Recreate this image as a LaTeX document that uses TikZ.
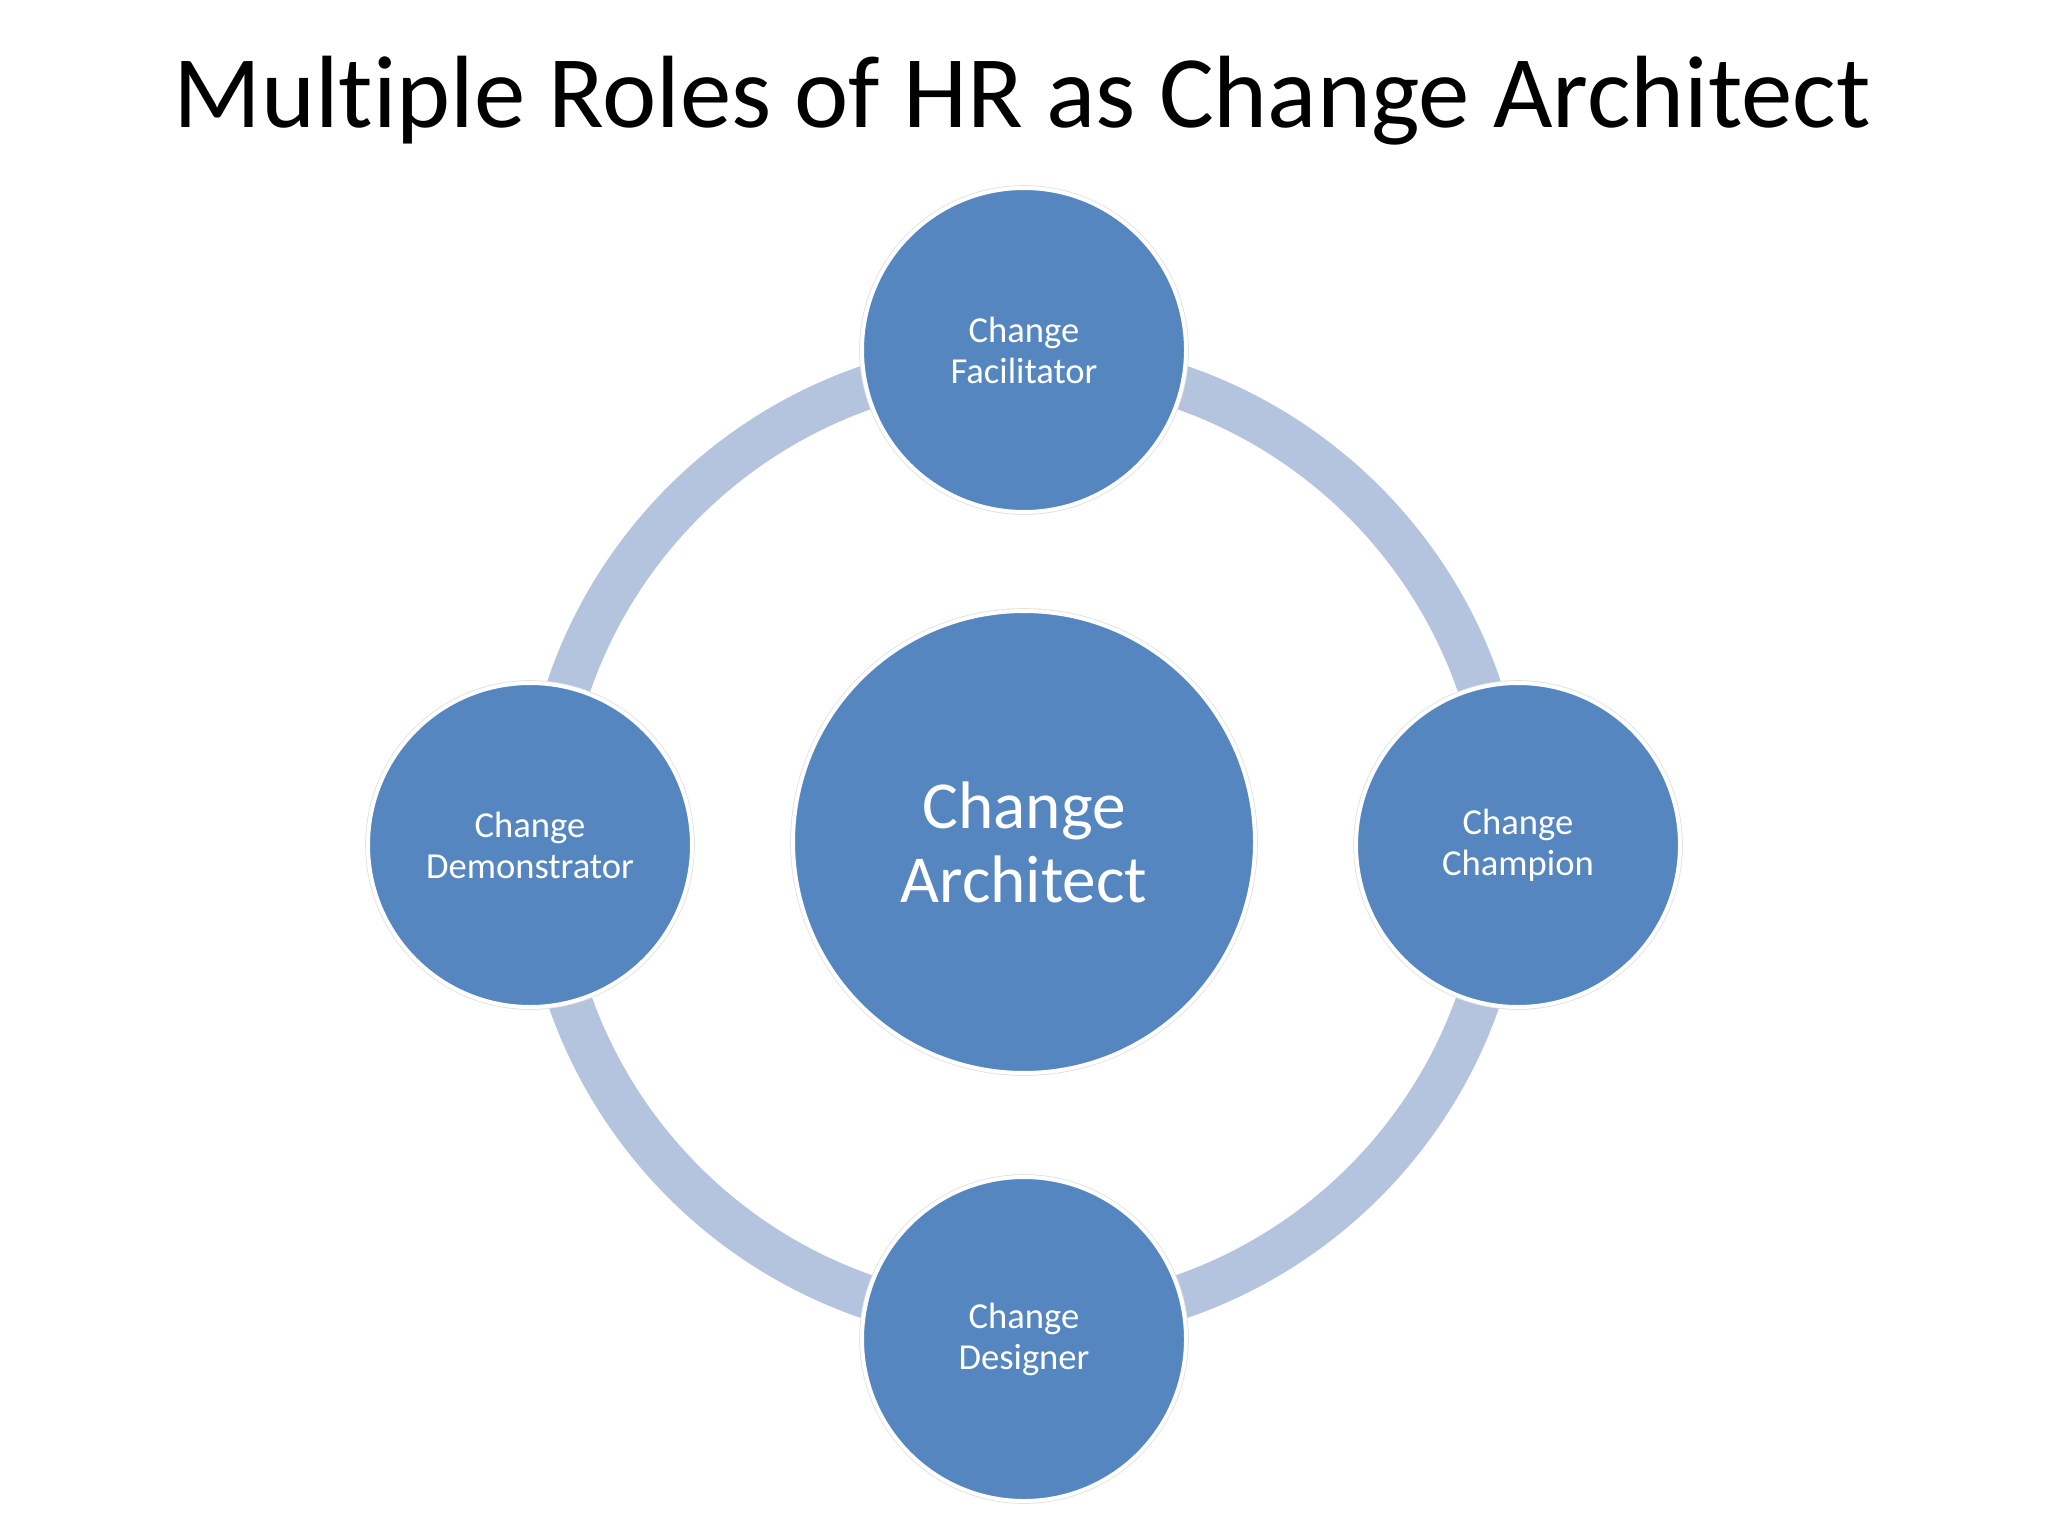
\documentclass[tikz,border=0pt]{standalone}
\usepackage{fontspec}
\setmainfont{Carlito}[Ligatures=NoCommon]
\usetikzlibrary{backgrounds}
\definecolor{circblue}{HTML}{5586C0}
\definecolor{ringblue}{HTML}{B4C4DF}
\begin{document}
\begin{tikzpicture}[x=0.5pt,y=-0.5pt,
  bubble/.style={circle, fill=circblue, draw=white, line width=2pt, inner sep=0pt,
    preaction={draw=black!12, line width=2.8pt},
    text=white, align=center},
  sat/.style={bubble, minimum size=162pt, font=\fontsize{18.3}{20.5}\selectfont},
  hub/.style={bubble, minimum size=231pt, font=\fontsize{33.6}{37}\selectfont},
  titletext/.style={anchor=base, text=black, font=\fontsize{51.4}{60}\selectfont}]
\useasboundingbox (0,0) rectangle (2048,1536);
\node[titletext] (title) at (1022,127) {Multiple Roles of HR as Change Architect};
\node[hub] (ca) at (1024,842) {Change\\Architect};
\node[sat] (fac) at (1024,350) {Change\\Facilitator};
\node[sat] (dem) at (530,845) {Change\\Demonstrator};
\node[sat] (cha) at (1518,845) {Change\\Champion};
\node[sat] (des) at (1024,1339) {Change\\Designer};
\begin{scope}[on background layer]
  \fill[white] (0,0) rectangle (2048,1536);
  \draw[ringblue, line width=22pt] (ca.center) circle[radius=240.5pt];
\end{scope}
\end{tikzpicture}
\end{document}
